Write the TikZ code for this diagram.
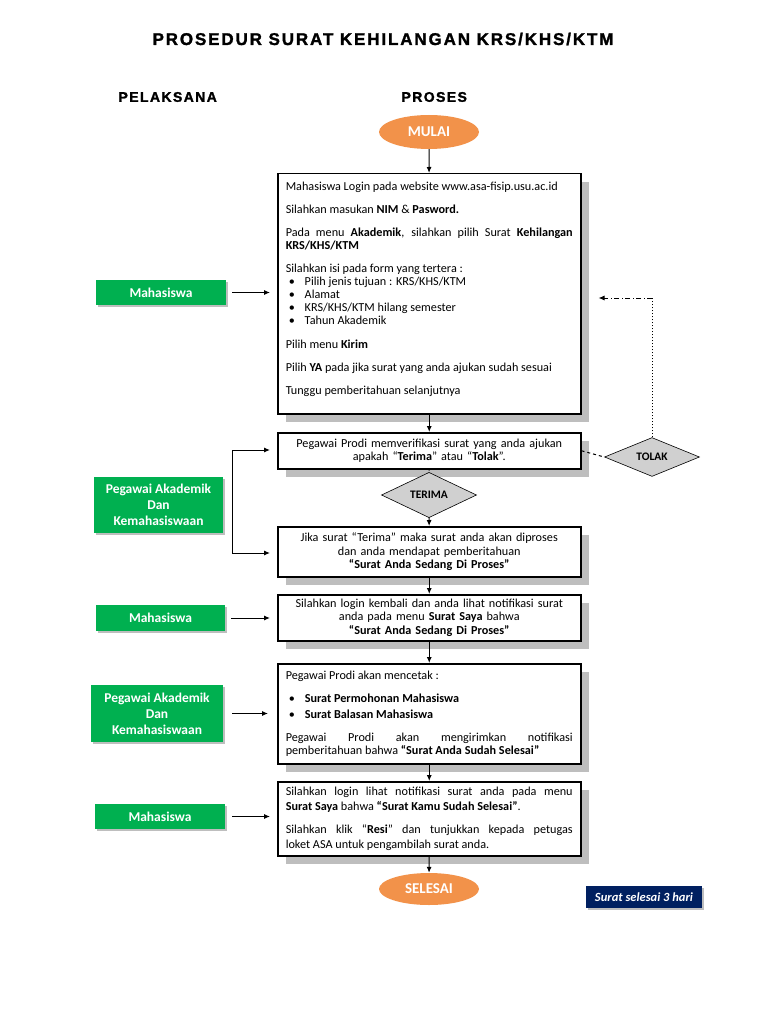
\documentclass[tikz,border=0pt]{standalone}
\usepackage{fontspec}
\setmainfont{Carlito}
\newfontfamily\titlefont[LetterSpace=11,FakeBold=1.5]{Liberation Sans Bold}
\newfontfamily\headfont[LetterSpace=10,FakeBold=1.5]{Liberation Sans Bold}
\usetikzlibrary{shapes.geometric,arrows.meta,shadows}
\definecolor{orng}{RGB}{242,146,74}
\definecolor{grn}{RGB}{0,176,80}
\definecolor{navy}{RGB}{0,32,96}
\definecolor{shgray}{RGB}{190,190,190}
\definecolor{dgray}{RGB}{208,208,208}
\newcommand{\bul}{\hspace*{3pt}\makebox[16pt][l]{\textbullet}}
\begin{document}
\begin{tikzpicture}[x=1pt,y=-1pt,
  pbox/.style={draw, line width=1.5pt, fill=white, anchor=north west,
    inner xsep=8pt, inner ysep=0pt, text width=287pt, minimum width=303pt,
    font=\fontsize{12.2}{13}\selectfont,
    drop shadow={shadow xshift=8pt, shadow yshift=-8pt, fill=shgray, opacity=1}},
  gbox/.style={fill=grn, text=white, align=center, inner sep=0pt,
    font=\bfseries\fontsize{13.5}{16}\selectfont,
    drop shadow={shadow xshift=1.5pt, shadow yshift=-1.5pt, fill=shgray, opacity=1}},
  oval/.style={ellipse, fill=orng, text=white, inner sep=0pt,
    minimum width=100pt, minimum height=34pt, font=\bfseries\fontsize{15}{17}\selectfont},
  dia/.style={diamond, draw, fill=dgray, inner sep=0pt, line width=0.6pt,
    minimum width=95pt, minimum height=30pt, font=\bfseries\fontsize{11.5}{13}\selectfont},
  arr/.style={line width=1pt, -{Latex[length=6pt,width=5pt]}},
  ddot/.style={line width=1pt, dash pattern=on 5pt off 2.5pt on 1pt off 2.5pt}
]
\useasboundingbox (0,0) rectangle (768,1024);
\fill[white] (0,0) rectangle (768,1024);

\node[font=\titlefont\fontsize{17}{19}\selectfont] (title) at (383,39) {PROSEDUR SURAT KEHILANGAN KRS/KHS/KTM};
\node[font=\headfont\fontsize{14}{16}\selectfont, anchor=west] (pel) at (115,97) {PELAKSANA};
\node[font=\headfont\fontsize{14}{16}\selectfont, anchor=west] (pro) at (398,97) {PROSES};

\node[oval] (mulai) at (429,132) {MULAI};

\node[pbox, minimum height=240pt, align=justify] (b1) at (277,173) {%
Mahasiswa Login pada website www.asa-fisip.usu.ac.id\\[10pt]
Silahkan masukan \textbf{NIM} \& \textbf{Pasword.}\\[10pt]
Pada menu \textbf{Akademik}, silahkan pilih Surat \textbf{Kehilangan}\linebreak \textbf{KRS/KHS/KTM}\\[10pt]
Silahkan isi pada form yang tertera :\\
\bul Pilih jenis tujuan : KRS/KHS/KTM\\
\bul Alamat\\
\bul KRS/KHS/KTM hilang semester\\
\bul Tahun Akademik\\[11pt]
Pilih menu \textbf{Kirim}\\[10pt]
Pilih \textbf{YA} pada jika surat yang anda ajukan sudah sesuai\\[10pt]
Tunggu pemberitahuan selanjutnya\rule[-10pt]{0pt}{1pt}};

\node[pbox, minimum height=36pt, align=center] (b2) at (277,432) {%
Pegawai Prodi memverifikasi surat yang anda ajukan\\
apakah “\textbf{Terima}” atau “\textbf{Tolak}”.};

\node[dia] (tolak) at (652,457) {TOLAK};
\node[dia] (terima) at (429,495) {TERIMA};

\node[pbox, minimum height=50pt, align=center, font=\fontsize{12.2}{13.5}\selectfont] (b3) at (277,526) {%
Jika surat “Terima” maka surat anda akan diproses\\
dan anda mendapat pemberitahuan\\
\textbf{“Surat Anda Sedang Di Proses”}};

\node[pbox, minimum height=46pt, align=center, font=\fontsize{12.2}{13.5}\selectfont] (b4) at (277,594) {%
Silahkan login kembali dan anda lihat notifikasi surat\\
anda pada menu \textbf{Surat Saya} bahwa\\
\textbf{“Surat Anda Sedang Di Proses”}};

\node[pbox, minimum height=100pt, align=justify] (b5) at (277,663) {%
Pegawai Prodi akan mencetak :\\[10pt]
\bul\textbf{Surat Permohonan Mahasiswa}\\[3pt]
\bul\textbf{Surat Balasan Mahasiswa}\\[10pt]
Pegawai Prodi akan mengirimkan notifikasi\linebreak pemberitahuan bahwa \textbf{“Surat Anda Sudah Selesai”}};

\node[pbox, minimum height=74pt, align=justify, font=\fontsize{12.2}{14.5}\selectfont] (b6) at (277,781) {%
Silahkan login lihat notifikasi surat anda pada menu\linebreak \textbf{Surat Saya} bahwa \textbf{“Surat Kamu Sudah Selesai”}.\\[9pt]
Silahkan klik “\textbf{Resi}” dan tunjukkan kepada petugas\linebreak loket ASA untuk pengambilah surat anda.};

\node[oval, minimum height=32pt] (selesai) at (429,889) {SELESAI};

\node[fill=navy, text=white, inner sep=0pt, minimum width=116pt, minimum height=22pt,
  font=\bfseries\itshape\fontsize{12.5}{14}\selectfont,
  drop shadow={shadow xshift=2pt, shadow yshift=-2pt, fill=shgray, opacity=1}] (note) at (644,897) {Surat selesai 3 hari};

% green actor boxes
\node[gbox, minimum width=130pt, minimum height=25pt] (m1) at (161,292.5) {Mahasiswa};
\node[gbox, minimum width=129pt, minimum height=56pt] (p1) at (158.5,505) {Pegawai Akademik\\Dan\\Kemahasiswaan};
\node[gbox, minimum width=129pt, minimum height=26pt] (m2) at (160.5,618) {Mahasiswa};
\node[gbox, minimum width=132pt, minimum height=57pt] (p2) at (157,713.5) {Pegawai Akademik\\Dan\\Kemahasiswaan};
\node[gbox, minimum width=130pt, minimum height=25pt] (m3) at (160,816.5) {Mahasiswa};

% main flow
\draw[arr] (mulai) -- (b1);
\draw[arr] (b1) -- (b2);
\draw[line width=1pt, dotted] (b2) -- (terima);
\draw[arr] (terima) -- (b3);
\draw[arr] (b3) -- (b4);
\draw[arr] (b4) -- (b5);
\draw[arr] (b5) -- (b6);
\draw[arr] (b6) -- (selesai);

% reject loop
\draw[line width=1pt, dashed] (b2.east) -- (tolak.west);
\coordinate (tc) at (652,298);
\draw[line width=1pt, dotted] (tolak.north) -- (tc);
\draw[ddot, -{Latex[length=6pt,width=5pt]}, shorten >=17pt] (tc) -- (b1.east |- tc);

% actor arrows
\draw[arr, shorten <=6pt, shorten >=7pt] (m1.east) -- (m1.east -| b1.west);
\draw[arr, shorten <=6pt, shorten >=7pt] (m2.east) -- (m2.east -| b4.west);
\draw[arr, shorten <=9pt, shorten >=9pt] (p2.east) -- (p2.east -| b5.west);
\draw[arr, shorten <=7pt, shorten >=7pt] (m3.east) -- (m3.east -| b6.west);
\coordinate (bt) at (232,450);
\coordinate (bb) at (232,553);
\draw[line width=1pt] (bt) -- (bb);
\draw[arr, shorten >=7pt] (bt) -- (bt -| b2.west);
\draw[arr, shorten >=7pt] (bb) -- (bb -| b3.west);
\end{tikzpicture}
\end{document}
